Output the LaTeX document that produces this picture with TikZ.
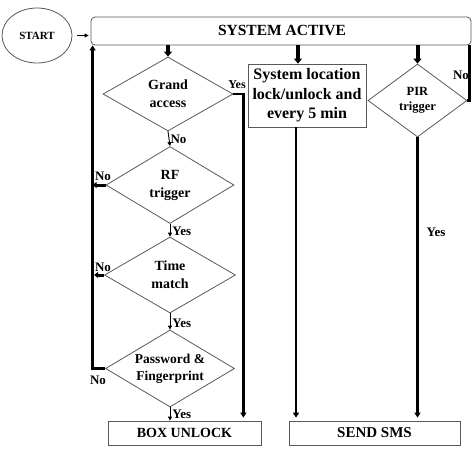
\documentclass[tikz,border=0pt]{standalone}
\usepackage{fontspec}
\setmainfont{Liberation Serif}
\usetikzlibrary{shapes.geometric,arrows.meta,calc}
\begin{document}
\begin{tikzpicture}[x=1pt,y=-1pt,
  outl/.style={draw=black!65,line width=0.8pt},
  dec/.style={outl,shape=diamond,inner sep=0pt,aspect=1.7,align=center,font=\bfseries\fontsize{14}{18}\selectfont},
  boxx/.style={outl,shape=rectangle,inner sep=0pt,align=center},
  thickln/.style={line width=2.6pt,-{Triangle[length=5pt,width=6pt]}},
  plainthick/.style={line width=2.6pt},
  stub/.style={line width=4pt,-{Triangle[length=5pt,width=8pt]}},
  thinarr/.style={line width=0.9pt,-{Triangle[length=4pt,width=4pt]}},
  sidearr/.style={line width=3pt,-{Triangle[length=4pt,width=6pt]}},
  lbl/.style={font=\bfseries\fontsize{13}{15}\selectfont,inner sep=0pt}
]
\useasboundingbox (0,0) rectangle (474,451);
\node[outl,ellipse,minimum width=70pt,minimum height=55pt,inner sep=0pt,font=\bfseries\fontsize{11}{13}\selectfont] (start) at (37,35.5) {START};
\node[outl,rounded corners=4pt,minimum width=380pt,minimum height=28pt,inner sep=0pt,font=\bfseries\fontsize{15.5}{18}\selectfont] (sa) at (281,31) {\hspace*{0pt}};
\node[font=\bfseries\fontsize{15.5}{18}\selectfont] (satext) at (282,30) {SYSTEM ACTIVE};
\node[dec,minimum width=130pt,minimum height=74pt] (ga) at (168,94) {Grand\\access};
\node[dec,minimum width=128pt,minimum height=77pt] (rf) at (170,185) {RF\\trigger};
\node[dec,minimum width=131pt,minimum height=76pt] (tm) at (170,275) {Time\\match};
\node[dec,minimum width=129pt,minimum height=77pt,font=\bfseries\fontsize{13.5}{17}\selectfont] (pf) at (170,368.5) {Password \&\\Fingerprint};
\node[dec,minimum width=99pt,minimum height=73pt,font=\bfseries\fontsize{12.5}{15}\selectfont] (pir) at (417.5,100.5) {PIR\\trigger};
\node[boxx,minimum width=118pt,minimum height=63pt,font=\bfseries\fontsize{16}{19.5}\selectfont] (sl) at (307,95.5) {System location\\lock/unlock and\\every 5 min};
\node[boxx,minimum width=153pt,minimum height=24pt,font=\bfseries\fontsize{14}{16}\selectfont] (bu) at (184.5,433) {BOX UNLOCK};
\node[boxx,minimum width=171pt,minimum height=24pt,font=\bfseries\fontsize{15}{17}\selectfont] (sms) at (374.5,433) {SEND SMS};

% coordinates
\coordinate (lp) at ([xshift=2pt]sa.south west);
\coordinate (rp) at ([xshift=-2pt]sa.south east);
\coordinate (slx) at ([xshift=-9pt]sl.north);
\coordinate (slb) at ([xshift=-11pt]sl.south);
\coordinate (smsx) at ([xshift=7pt]sms.north west);
\coordinate (bux) at ([xshift=-18pt]bu.north east);
\coordinate (rfno) at ([xshift=-13pt]rf.west);
\coordinate (tmno) at ([xshift=-10pt]tm.west);

% connectors
\draw[line width=0.9pt,-{Triangle[length=4pt,width=4pt]},shorten <=5pt,shorten >=2pt] (start.east) -- (start.east -| sa.west);
\draw[stub] (sa.south -| ga.north) -- (ga.north);
\draw[stub] (sa.south -| slx) -- (slx);
\draw[stub] (sa.south -| pir.north) -- (pir.north);

\draw[thinarr] (ga.south) -- (rf.north) node[lbl,pos=0.55,right=1pt] {No};
\draw[thinarr] (rf.south) -- (tm.north) node[lbl,pos=0.6,right=2pt] {Yes};
\draw[thinarr] (tm.south) -- (pf.north) node[lbl,pos=0.6,right=2pt] {Yes};
\draw[thinarr] (pf.south) -- (pf.south |- bu.north) node[lbl,pos=0.55,right=2pt] {Yes};

\draw[sidearr] (rf.west) -- (rfno);
\node[lbl] (rfnol) at (103,176) {No};
\draw[sidearr] (tm.west) -- (tmno);
\node[lbl] (tmnol) at (103,267) {No};

\draw[thickln] (pf.west) -| (lp);
\node[lbl] (pfnol) at (98,380) {No};

\draw[thickln,shorten >=3pt] (ga.east) -| (bux);
\node[lbl,font=\bfseries\fontsize{12}{14}\selectfont] (gayes) at (237,85) {Yes};

\draw[thickln,shorten >=3pt] (slb) -- (slb |- sms.north);
\draw[thickln,shorten >=3pt] (pir.south) -- (pir.south |- sms.north);
\node[lbl] (piryes) at (436,232) {Yes};

\draw[plainthick] (pir.east) -| (rp);
\node[lbl] (pirno) at (461,75) {No};
\end{tikzpicture}
\end{document}
